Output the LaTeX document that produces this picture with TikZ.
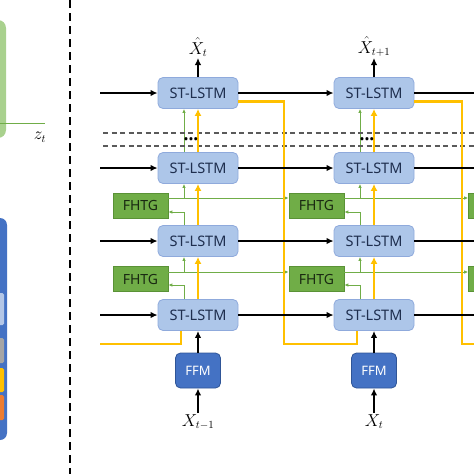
\documentclass[tikz,border=0pt]{standalone}
\usepackage{fontspec}
\setmainfont{Noto Sans}
\usetikzlibrary{arrows.meta,calc}
\definecolor{lstmfill}{HTML}{ADC6E9}
\definecolor{lstmborder}{HTML}{8FAADC}
\definecolor{lstmtext}{HTML}{1F2F4F}
\definecolor{fhtgfill}{HTML}{70AD47}
\definecolor{fhtgborder}{HTML}{5A9236}
\definecolor{fhtgtext}{HTML}{1A2A12}
\definecolor{ffmfill}{HTML}{4472C4}
\definecolor{ffmborder}{HTML}{2F5597}
\definecolor{ylwc}{HTML}{FFC000}
\definecolor{grnc}{HTML}{70AD47}
\definecolor{lgreen}{HTML}{A9D18E}
\definecolor{lblue}{HTML}{B4C7E7}
\definecolor{greyc}{HTML}{A5A5A5}
\definecolor{orangec}{HTML}{ED7D31}
\definecolor{dashc}{HTML}{5A5A5A}
\begin{document}
\begin{tikzpicture}[x=1pt,y=-1pt,
  lstm/.style={draw=lstmborder, fill=lstmfill, rounded corners=5pt, minimum width=80pt, minimum height=31pt, inner sep=0pt, line width=0.8pt, text=lstmtext, font=\fontsize{14.5}{16}\selectfont},
  fhtg/.style={draw=fhtgborder, fill=fhtgfill, minimum width=55pt, minimum height=25pt, inner sep=0pt, line width=0.6pt, text=fhtgtext, font=\fontsize{14}{16}\selectfont},
  ffm/.style={draw=ffmborder, fill=ffmfill, rounded corners=5pt, minimum width=45pt, minimum height=35pt, inner sep=0pt, line width=0.8pt, text=white, font=\fontsize{13}{15}\selectfont},
  lbl/.style={inner sep=1pt, font=\fontsize{16}{18}\selectfont},
  blk/.style={line width=2.2pt, black},
  blkarr/.style={blk, -{Latex[length=7pt,width=6.5pt]}},
  ylw/.style={line width=2.6pt, ylwc},
  ylwarr/.style={ylw, -{Latex[length=7pt,width=7pt]}},
  grn/.style={line width=0.9pt, grnc},
  grnarr/.style={grn, -{Latex[length=4pt,width=3.5pt]}},
  dsh/.style={line width=1.3pt, dashc, dash pattern=on 5pt off 3.5pt},
  dotsty/.style={inner sep=0pt, text=black, font=\fontsize{24}{26}\selectfont\bfseries},
]
\useasboundingbox (0,0) rectangle (474,474);
\clip (0,0) rectangle (474,474);

% ---- left fragments ----
\fill[lgreen, rounded corners=8pt] (-40,20) rectangle (6,138);
\coordinate (z0) at (0,123);
\coordinate (z1) at (45,123);
\draw[grn] (z0) -- (z1);
\node[lbl] (zl) at (40,137) {$z_t$};
\fill[ffmfill, rounded corners=7pt] (-40,218) rectangle (7,440);
\fill[lblue, rounded corners=1.5pt] (-20,293) rectangle (4,325);
\fill[greyc, rounded corners=1.5pt] (-20,338) rectangle (4,363);
\fill[ylwc, rounded corners=1.5pt] (-20,368) rectangle (4,392);
\fill[orangec, rounded corners=1.5pt] (-20,395) rectangle (4,420);

% ---- vertical divider ----
\coordinate (v0) at (70,0);
\coordinate (v1) at (70,474);
\draw[line width=2pt, black, dash pattern=on 8pt off 5pt] (v0) -- (v1);

% ---- nodes ----
\foreach \col/\x in {a/198,b/374}{
  \node[lstm] (\col 1) at (\x,93) {ST-LSTM};
  \node[lstm] (\col 2) at (\x,168) {ST-LSTM};
  \node[lstm] (\col 3) at (\x,241) {ST-LSTM};
  \node[lstm] (\col 4) at (\x,315) {ST-LSTM};
  \node[ffm] (\col F) at (\x,370.5) {FFM};
  \node[fhtg] (\col G1) at (\x-57.5,205.5) {FHTG};
  \node[fhtg] (\col G2) at (\x-57.5,279) {FHTG};
}
\node[fhtg] (cG1) at (496,205.5) {};
\node[fhtg] (cG2) at (496,279) {};

\node[lbl, anchor=south] (ha) at (198,58) {$\hat{X}_t$};
\node[lbl, anchor=south] (hb) at (374,58) {$\hat{X}_{t+1}$};
\node[lbl, anchor=north] (xa) at (198,413) {$X_{t-1}$};
\node[lbl, anchor=north] (xb) at (374,413) {$X_{t}$};

% ---- green connectors ----
\foreach \col/\nx in {a/b,b/c}{
  \draw[grnarr] ($(\col 3.north)+(-14,0)$) |- ($(\col G1.east)+(0,6.5)$);
  \draw[grnarr] ($(\col G1.east)+(0,-7.5)$) -- ($(\nx G1.west)+(0,-7.5)$);
  \draw[grnarr] ($(\col G1.east)+(0,-7.5)$) -| ($(\col 2.south)+(-14,0)$);
  \draw[grnarr] ($(\col 2.north)+(-14,0)$) -- ($(\col 1.south)+(-14,0)$);
  \draw[grnarr] ($(\col 4.north)+(-14,0)$) |- ($(\col G2.east)+(0,6)$);
  \draw[grnarr] ($(\col G2.east)+(0,-7)$) -- ($(\nx G2.west)+(0,-7)$);
  \draw[grnarr] ($(\col G2.east)+(0,-7)$) -| ($(\col 3.south)+(-14,0)$);
}

% ---- dashed separators ----
\coordinate (d1s) at (103,133); \coordinate (d1e) at (480,133);
\coordinate (d2s) at (103,146); \coordinate (d2e) at (480,146);
\draw[dsh] (d1s) -- (d1e);
\draw[dsh] (d2s) -- (d2e);

% ---- yellow connectors ----
\coordinate (y0) at (100,344);
\coordinate (ya) at (284,344);
\coordinate (yb) at (462,344);
\coordinate (yend) at (480,344);
\draw[ylw] (y0) -| ($(a4.south)+(-17,0)$);
\draw[ylw] ($(a1.east)+(0,8.5)$) -| (ya) -| ($(b4.south)+(-17,0)$);
\draw[ylw] ($(b1.east)+(0,8.5)$) -| (yb) -- (yend);
\foreach \col in {a,b}{
  \draw[ylwarr] (\col 4.north) -- (\col 3.south);
  \draw[ylwarr] (\col 3.north) -- (\col 2.south);
  \draw[ylwarr] (\col 2.north) -- (\col 1.south);
}

% ---- black connectors ----
\foreach \rr/\yy in {1/93,2/168,3/241,4/315}{
  \coordinate (in\rr) at (100,\yy);
  \coordinate (out\rr) at (480,\yy);
  \draw[blkarr] (in\rr) -- (a\rr.west);
  \draw[blkarr] (a\rr.east) -- (b\rr.west);
  \draw[blk] (b\rr.east) -- (out\rr);
}
\foreach \col in {a,b}{
  \draw[blkarr] (\col F.north) -- (\col 4.south);
  \draw[blkarr] (\col 1.north) -- (h\col.south);
  \draw[blkarr] (x\col.north) -- (\col F.south);
}

% ---- dots ----
\node[dotsty] (dotsa) at (191,139) {.\kern-1.5pt.\kern-1.5pt.};
\node[dotsty] (dotsb) at (367,139) {.\kern-1.5pt.\kern-1.5pt.};
\end{tikzpicture}
\end{document}
